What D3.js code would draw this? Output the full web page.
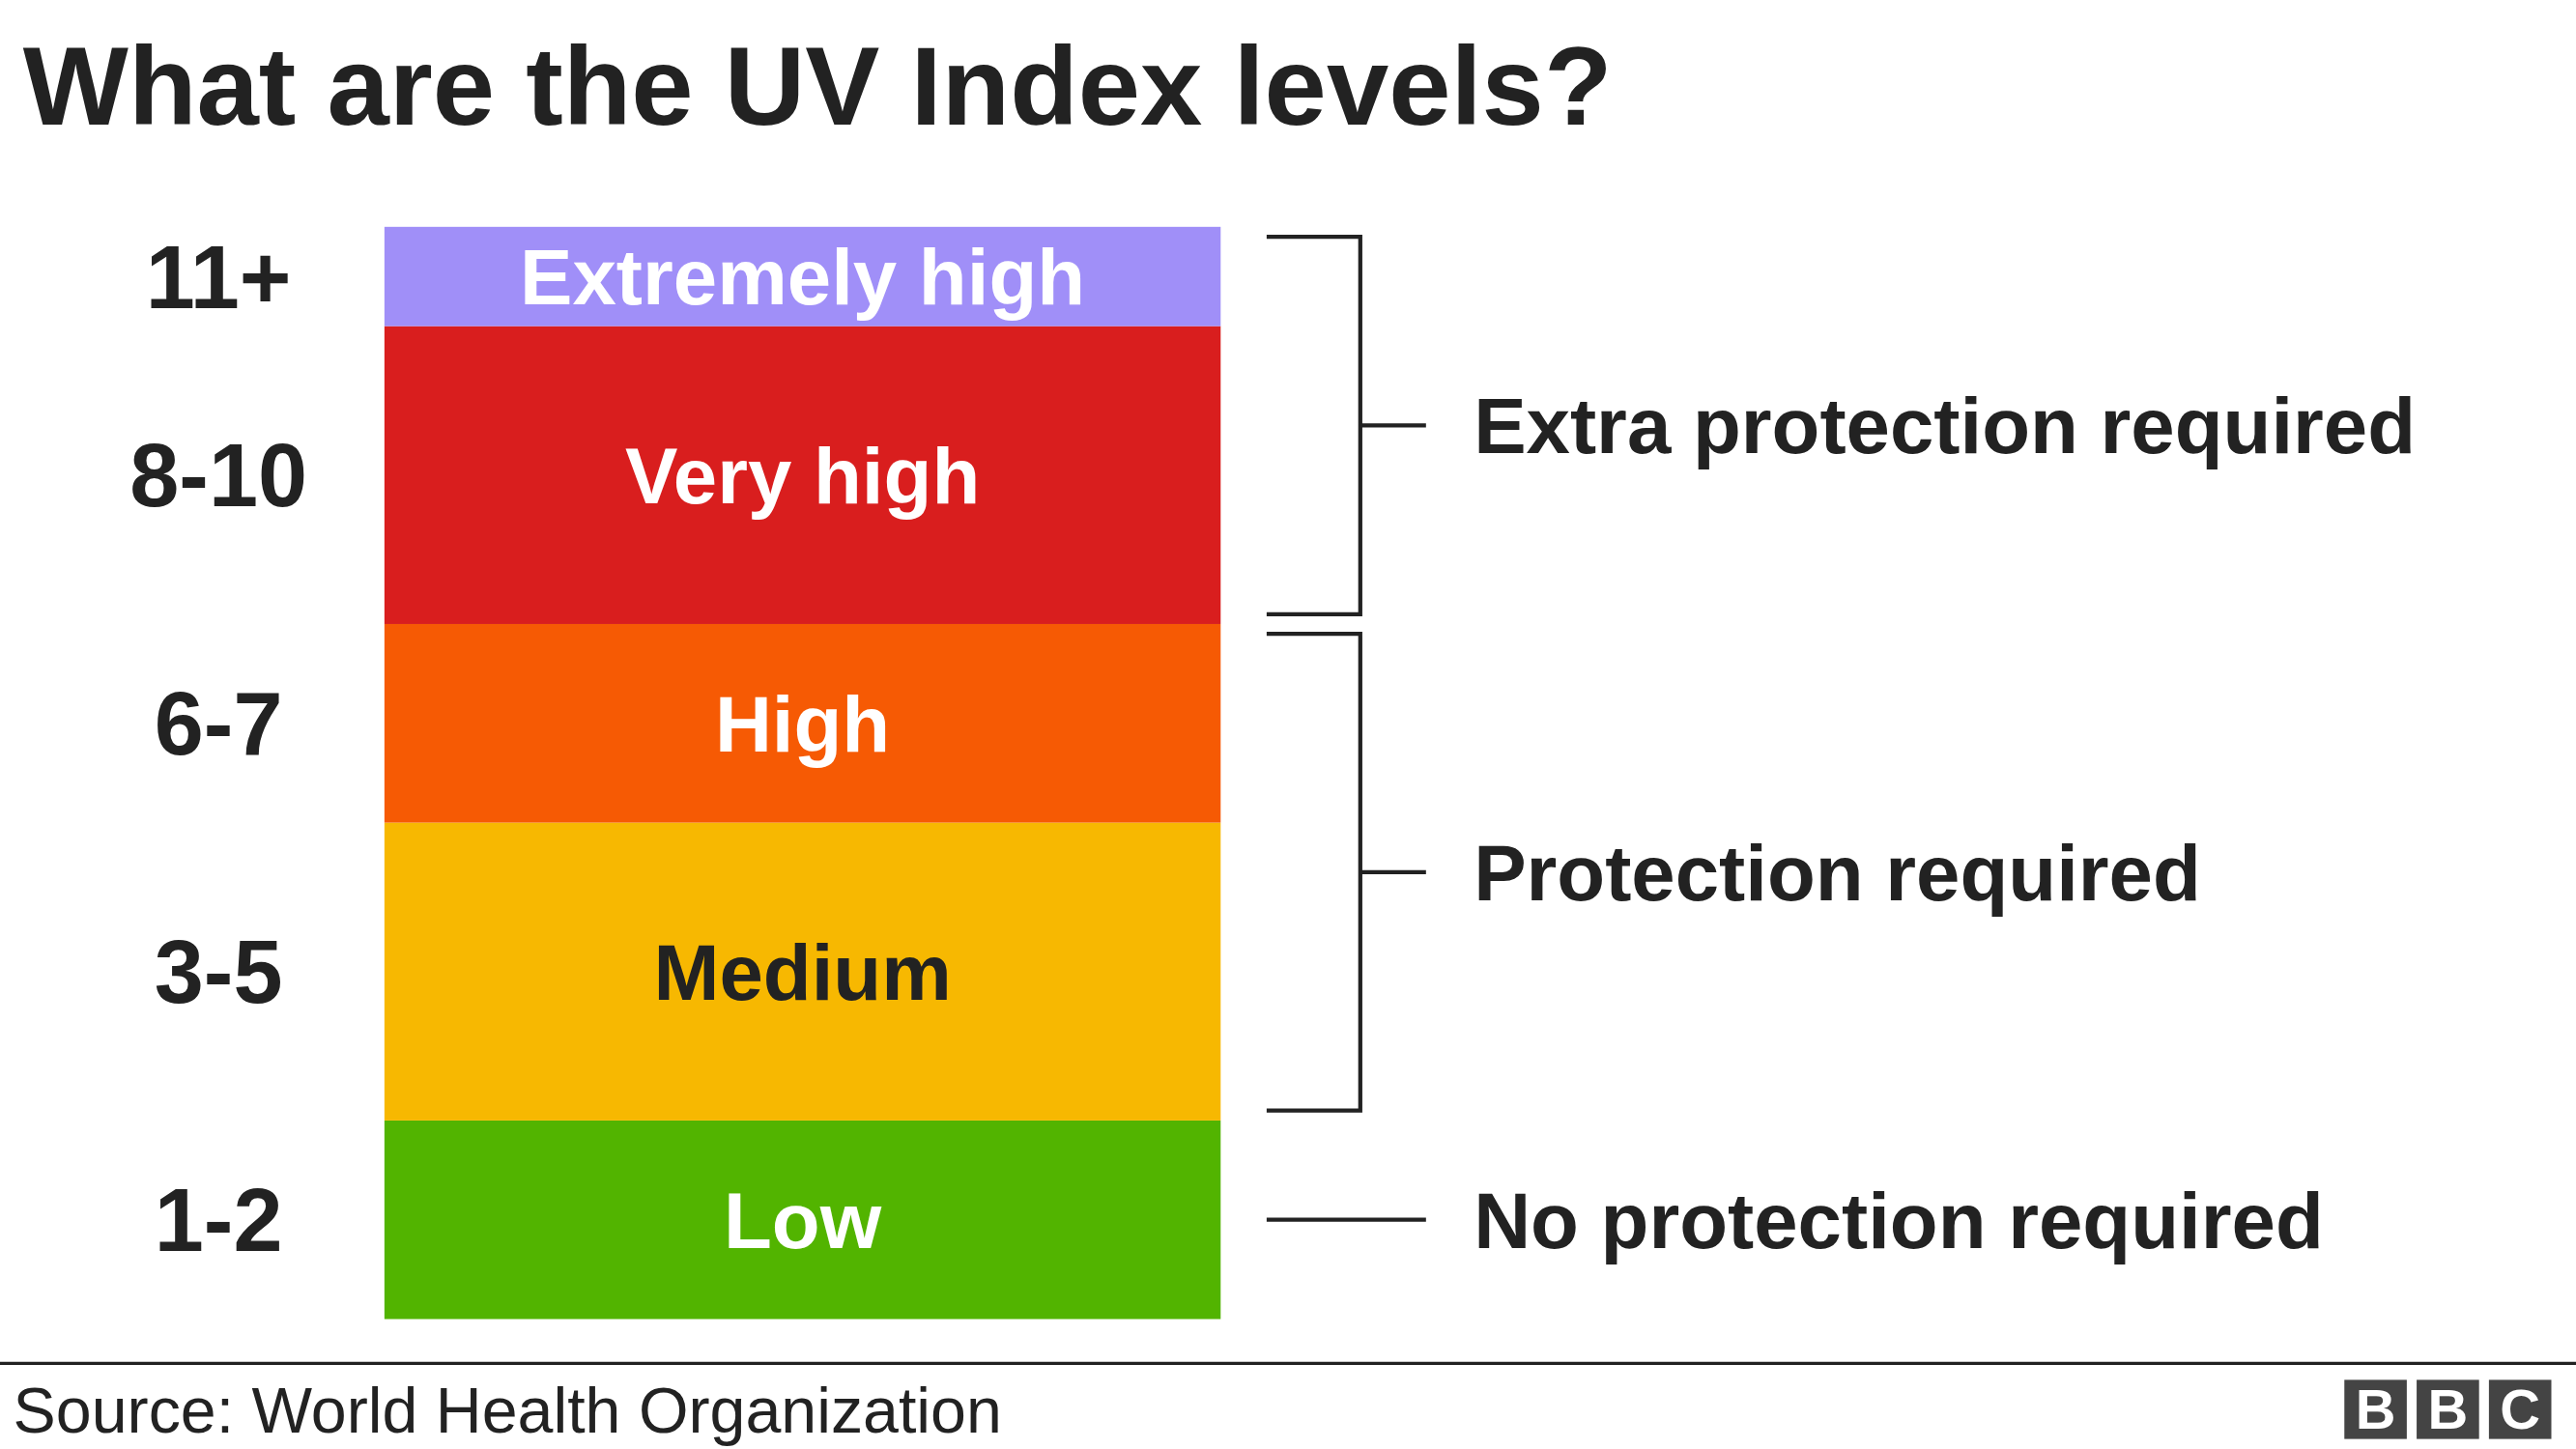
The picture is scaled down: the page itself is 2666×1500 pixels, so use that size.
<!DOCTYPE html>
<html><head><meta charset="utf-8">
<script src="https://cdn.jsdelivr.net/npm/d3@7"></script>
<style>body{margin:0;background:#fff}svg{display:block}</style>
</head><body>
<div id="chart"></div>
<script>
// UV bands (index units, bottom to top)
const levels = ["Low", "Medium", "High", "Very high", "Extremely high"];
const ranges = ["1-2", "3-5", "6-7", "8-10", "11+"];
const bandLow = [0, 2, 5, 7, 10];
const bandHigh = [2, 5, 7, 10, 11];
const colors = ["#52b400", "#f7b801", "#f65a04", "#d91e1e", "#a08ff8"];
const labelColors = ["#fff", "#222", "#fff", "#fff", "#fff"];
const groups = ["No protection required", "Protection required", "Extra protection required"];
const groupLow = [0, 2, 7];
const groupHigh = [2, 7, 11];

const W = 1568, H = 882;
const svg = d3.select("#chart").append("svg")
  .attr("width", 2666).attr("height", 1500)
  .attr("viewBox", `0 0 ${W} ${H}`)
  .style("font-family", "'Liberation Sans', Arial, sans-serif");

const y = d3.scaleLinear().domain([0, 11]).range([803, 138]);
const x0 = 234, x1 = 743;

svg.append("text").attr("x", 14).attr("y", 76)
  .attr("font-size", 68).attr("font-weight", "bold").attr("fill", "#222")
  .text("What are the UV Index levels?");

const g = svg.append("g");
levels.forEach((lv, i) => {
  const top = y(bandHigh[i]), bot = y(bandLow[i]), mid = (top + bot) / 2;
  g.append("rect").attr("x", x0).attr("y", top).attr("width", x1 - x0)
    .attr("height", bot - top).attr("fill", colors[i]);
  g.append("text").attr("x", (x0 + x1) / 2).attr("y", mid + 17)
    .attr("text-anchor", "middle").attr("font-size", 48).attr("font-weight", "bold")
    .attr("fill", labelColors[i]).text(lv);
  g.append("text").attr("x", 133).attr("y", mid + 19)
    .attr("text-anchor", "middle").attr("font-size", 54).attr("font-weight", "bold")
    .attr("fill", "#222").text(ranges[i]);
});

// brackets
const bx = 828;
groups.forEach((gr, i) => {
  const top = y(groupHigh[i]), bot = y(groupLow[i]), mid = (top + bot) / 2;
  if (groupHigh[i] - groupLow[i] > 2) {
    const t = top + 6, b = bot - 6;
    g.append("path").attr("d", `M771,${t}H${bx}V${b}H771M${bx},${mid}H868`)
      .attr("fill", "none").attr("stroke", "#222").attr("stroke-width", 2.5);
  } else {
    g.append("line").attr("x1", 771).attr("x2", 868).attr("y1", mid).attr("y2", mid)
      .attr("stroke", "#222").attr("stroke-width", 2.5);
  }
  g.append("text").attr("x", 897).attr("y", mid + 17)
    .attr("font-size", 48).attr("font-weight", "bold").attr("fill", "#222").text(gr);
});

// footer
svg.append("line").attr("x1", 0).attr("x2", W).attr("y1", 830).attr("y2", 830)
  .attr("stroke", "#222").attr("stroke-width", 2);
svg.append("text").attr("x", 8).attr("y", 872).attr("font-size", 39)
  .attr("fill", "#222").text("Source: World Health Organization");
["B", "B", "C"].forEach((c, i) => {
  const bxl = 1427 + i * 44;
  svg.append("rect").attr("x", bxl).attr("y", 840).attr("width", 38).attr("height", 36).attr("fill", "#444");
  svg.append("text").attr("x", bxl + 19).attr("y", 870).attr("text-anchor", "middle")
    .attr("font-size", 34).attr("font-weight", "bold").attr("fill", "#fff").text(c);
});
</script>
</body></html>
